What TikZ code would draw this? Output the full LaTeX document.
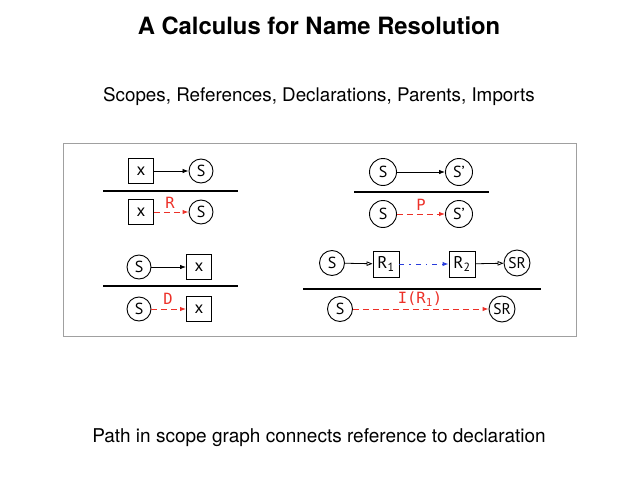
\documentclass[tikz,border=0pt]{standalone}
\usepackage{fontspec}
\setmainfont{TeX Gyre Heros}
\newfontfamily\nodefont{PT Sans}
\newfontfamily\lblfont{DejaVu Sans Mono}
\usetikzlibrary{arrows.meta}
\definecolor{myred}{RGB}{236,48,40}
\definecolor{myblue}{RGB}{40,60,220}
\definecolor{framegray}{RGB}{160,160,160}
\tikzset{
  sq/.style={draw, line width=0.9pt, minimum size=25pt, inner sep=0pt, font=\nodefont\fontsize{17}{17}\selectfont},
  circ/.style={draw, circle, line width=0.9pt, minimum size=24pt, inner sep=0pt, font=\nodefont\fontsize{16}{16}\selectfont},
  bigcirc/.style={circ, minimum size=27pt},
  srcirc/.style={circ, minimum size=26pt, font=\nodefont\fontsize{15.5}{15.5}\selectfont},
  solidarrow/.style={draw, line width=0.8pt, -{Latex[length=6pt,width=4.5pt]}},
  openarrow/.style={draw, line width=0.8pt, -{Triangle[open,length=6pt,width=4.5pt]}},
  redarrow/.style={draw=myred, line width=1pt, dash pattern=on 6pt off 4pt, -{Latex[length=6pt,width=4.5pt]}, myred},
  bluearrow/.style={draw=myblue, line width=1pt, dash pattern=on 5pt off 5pt on 1.5pt off 5pt, -{Latex[length=6pt,width=4.5pt]}, myblue},
  rulebar/.style={line width=1.8pt},
  lbl/.style={text=myred, font=\lblfont\fontsize{15.5}{15.5}\selectfont, inner sep=0pt},
}
\begin{document}
\begin{tikzpicture}[x=1pt,y=-1pt]
\useasboundingbox (0,0) rectangle (638,479);
\node (title) at (319,26) {\fontsize{23.8}{28}\selectfont\bfseries A Calculus for Name Resolution};
\node (sub) at (319,97) {\fontsize{18.8}{22}\selectfont Scopes, References, Declarations, Parents, Imports};
\node (foot) at (319,438) {\fontsize{19}{22}\selectfont Path in scope graph connects reference to declaration};
\draw[framegray, line width=1pt] (63,143) rectangle (576,336);

% rule R
\node[sq] (x1) at (141,171) {x};
\node[circ] (s1) at (201,171) {S};
\draw[solidarrow] (x1) -- (s1);
\draw[rulebar] (103,191) -- (238,191);
\node[sq] (x2) at (141,212) {x};
\node[circ] (s2) at (201,212) {S};
\draw[redarrow] (x2) -- (s2);
\node[lbl] (lr) at (170,203) {R};

% rule D
\node[circ] (s3) at (139,267) {S};
\node[sq] (x3) at (199,267) {x};
\draw[solidarrow] (s3) -- (x3);
\draw[rulebar] (103,286) -- (238,286);
\node[circ] (s4) at (139,309) {S};
\node[sq] (x4) at (199,309) {x};
\draw[redarrow] (s4) -- (x4);
\node[lbl] (ld) at (168,299) {D};

% rule P
\node[bigcirc] (s5) at (383,172) {S};
\node[bigcirc] (s6) at (459,172) {S’};
\draw[solidarrow] (s5) -- (s6);
\draw[rulebar] (354,192) -- (489,192);
\node[bigcirc] (s7) at (383,214) {S};
\node[bigcirc] (s8) at (459,214) {S’};
\draw[redarrow] (s7) -- (s8);
\node[lbl] (lp) at (421,205) {P};

% rule I
\node[circ, minimum size=25pt] (s9) at (332,263) {S};
\node[sq, minimum size=26pt] (r1) at (386,264) {R\textsubscript{1}};
\node[sq, minimum size=26pt] (r2) at (462,264) {R\textsubscript{2}};
\node[srcirc] (sr1) at (517,263) {SR};
\draw[openarrow] (s9) -- (r1);
\draw[bluearrow] (r1) -- (r2);
\draw[openarrow] (r2) -- (sr1);
\draw[rulebar] (303,289) -- (541,289);
\node[circ, minimum size=25pt] (s10) at (340,309) {S};
\node[srcirc] (sr2) at (502,309) {SR};
\draw[redarrow] (s10) -- (sr2);
\node[lbl] (li) at (420,299) {I(R\textsubscript{1})};
\end{tikzpicture}
\end{document}
